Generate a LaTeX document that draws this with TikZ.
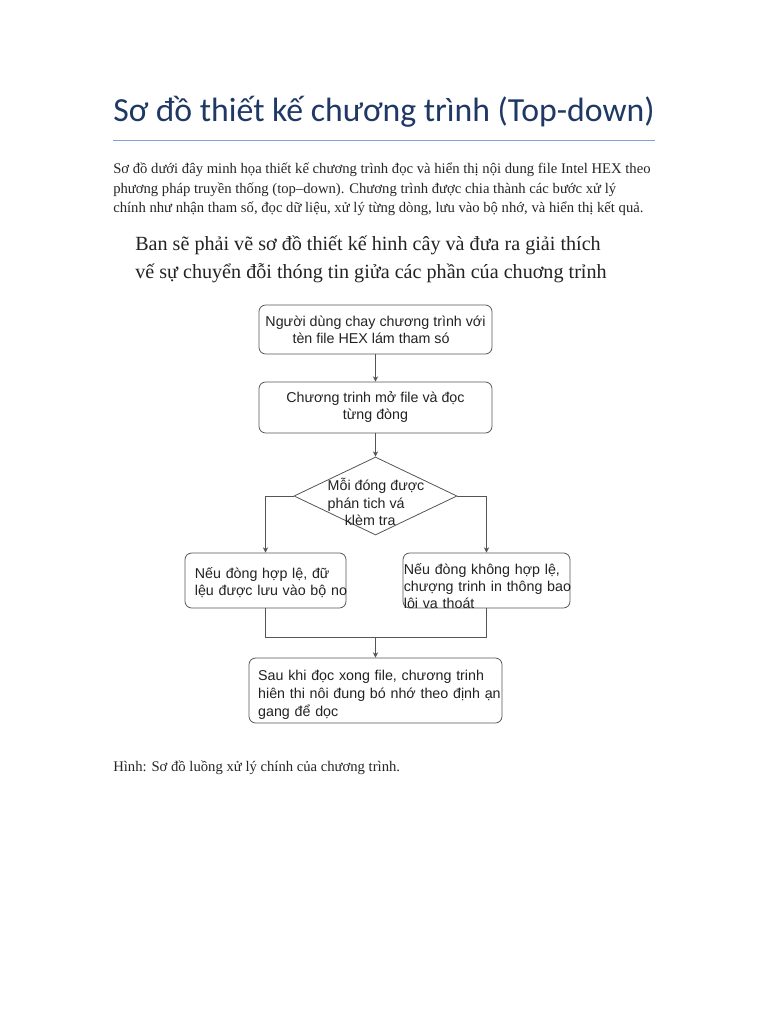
\documentclass[tikz,border=0pt]{standalone}
\usepackage{fontspec}
\usepackage{tikz}
\usetikzlibrary{shapes.geometric}
\usetikzlibrary{arrows.meta}

\newfontfamily\titlefont{Carlito}
\newfontfamily\bodyfont{Liberation Serif}
\newfontfamily\picfont{Liberation Serif}
\newfontfamily\boxfont{Liberation Sans}

\definecolor{titleblue}{HTML}{1F3864}
\definecolor{ruleblue}{HTML}{7FA3D3}
\definecolor{flowgray}{HTML}{555555}
\definecolor{inkgray}{HTML}{222222}

\tikzset{
  bodyline/.style={anchor=base west, inner sep=0pt, font=\bodyfont\fontsize{11}{13}\selectfont, text=black!85},
  picline/.style={anchor=base west, inner sep=0pt, font=\picfont\fontsize{15.1}{17}\selectfont, text=inkgray},
  flowbox/.style={draw=flowgray, rounded corners=5pt, line width=0.6pt, inner sep=0pt,
    font=\boxfont\fontsize{10.7}{12.8}\selectfont, text=inkgray},
  decision/.style={draw=flowgray, diamond, line width=0.6pt, inner sep=0pt,
    minimum width=122.25pt, minimum height=58.5pt},
  flowarrow/.style={draw=flowgray, line width=0.6pt, -{Stealth[length=4pt,width=4pt]}},
  flowline/.style={draw=flowgray, line width=0.6pt}
}

\begin{document}
\begin{tikzpicture}[x=0.75pt,y=-0.75pt]

% Page
\useasboundingbox (0,0) rectangle (768,1024);
\fill[white] (0,0) rectangle (768,1024);

% Heading
\node[anchor=base west, inner sep=0pt, text=titleblue, font=\titlefont\fontsize{25.3}{30}\selectfont]
  (title) at (113,122) {Sơ đồ thiết kế chương trình (Top-down)};
\draw[ruleblue, line width=0.75pt] (113,140) -- (655,140);

% Intro paragraph
\node[bodyline] (p1) at (113,173) {Sơ đồ dưới đây minh họa thiết kế chương trình đọc và hiển thị nội dung file Intel HEX theo};
\node[bodyline] (p2) at (113,193) {phương pháp truyền thống (top–down). Chương trình được chia thành các bước xử lý};
\node[bodyline] (p3) at (113,212) {chính như nhận tham số, đọc dữ liệu, xử lý từng dòng, lưu vào bộ nhớ, và hiển thị kết quả.};

% Text of the pasted picture
\node[picline] (q1) at (135,250) {Ban sẽ phải vẽ sơ đồ thiết kế hinh cây và đưa ra giải thích};
\node[picline] (q2) at (135,278) {vế sự chuyển đỗi thóng tin giửa các phần cúa chuơng trỉnh};

% Flow boxes
\node[flowbox, minimum width=174.75pt, minimum height=36.75pt, align=left] (start) at (375.5,329.5)
  {Người dùng chay chương trình với\\\hspace*{1.9em}tèn file HEX lám tham só};
\node[flowbox, minimum width=174.75pt, minimum height=38.25pt, align=center] (open) at (375.5,407.5)
  {Chương trinh mở file và đọc\\từng đòng};
\node[decision] (check) at (375.5,496) {};
\node[inner sep=0pt, align=left, font=\boxfont\fontsize{10.7}{13}\selectfont, text=inkgray] (checktxt) at (376,502)
  {Mỗi đóng được\\phán tich vá\\\hspace*{1.2em}klèm tra};
\node[flowbox, minimum width=120.75pt, minimum height=41.25pt, text width=106pt, align=left,
  text height=8pt, text depth=10.3pt, font=\boxfont\fontsize{10.7}{12.6}\selectfont] (valid) at (265.5,580.5)
  {\mbox{Nếu đòng hợp lệ, đữ}\\\mbox{lệu được lưu vào bộ no}};
\node[flowbox, minimum width=125.25pt, minimum height=41.25pt, text width=124pt, align=left,
  text height=8pt, text depth=17.3pt, font=\boxfont\fontsize{10.7}{13}\selectfont] (invalid) at (486.5,580.5)
  {\mbox{Nếu đòng không hợp lệ,}\\\mbox{chượng trinh in thông bao}\\\mbox{lôi va thoát}};
\node[flowbox, minimum width=189.75pt, minimum height=48.75pt, text width=176pt, align=left,
  text height=8pt, text depth=22.3pt, font=\boxfont\fontsize{10.7}{13.2}\selectfont] (show) at (375.5,690.5)
  {\mbox{Sau khi đọc xong file, chương trinh}\\\mbox{hiên thi nôi đung bó nhớ theo định ạn}\\\mbox{gang để dọc}};

% Connectors
\coordinate (join) at (375.5,637);
\draw[flowarrow] (start) -- (open);
\draw[flowarrow] (open) -- (check);
\draw[flowarrow] (check.west) -| (valid.north);
\draw[flowarrow] (check.east) -| (invalid.north);
\draw[flowline] (valid.south) |- (join);
\draw[flowline] (invalid.south) |- (join);
\draw[flowarrow] (join) -- (show);

% Caption
\node[bodyline] (cap) at (113,771) {Hình: Sơ đồ luồng xử lý chính của chương trình.};

\end{tikzpicture}
\end{document}
